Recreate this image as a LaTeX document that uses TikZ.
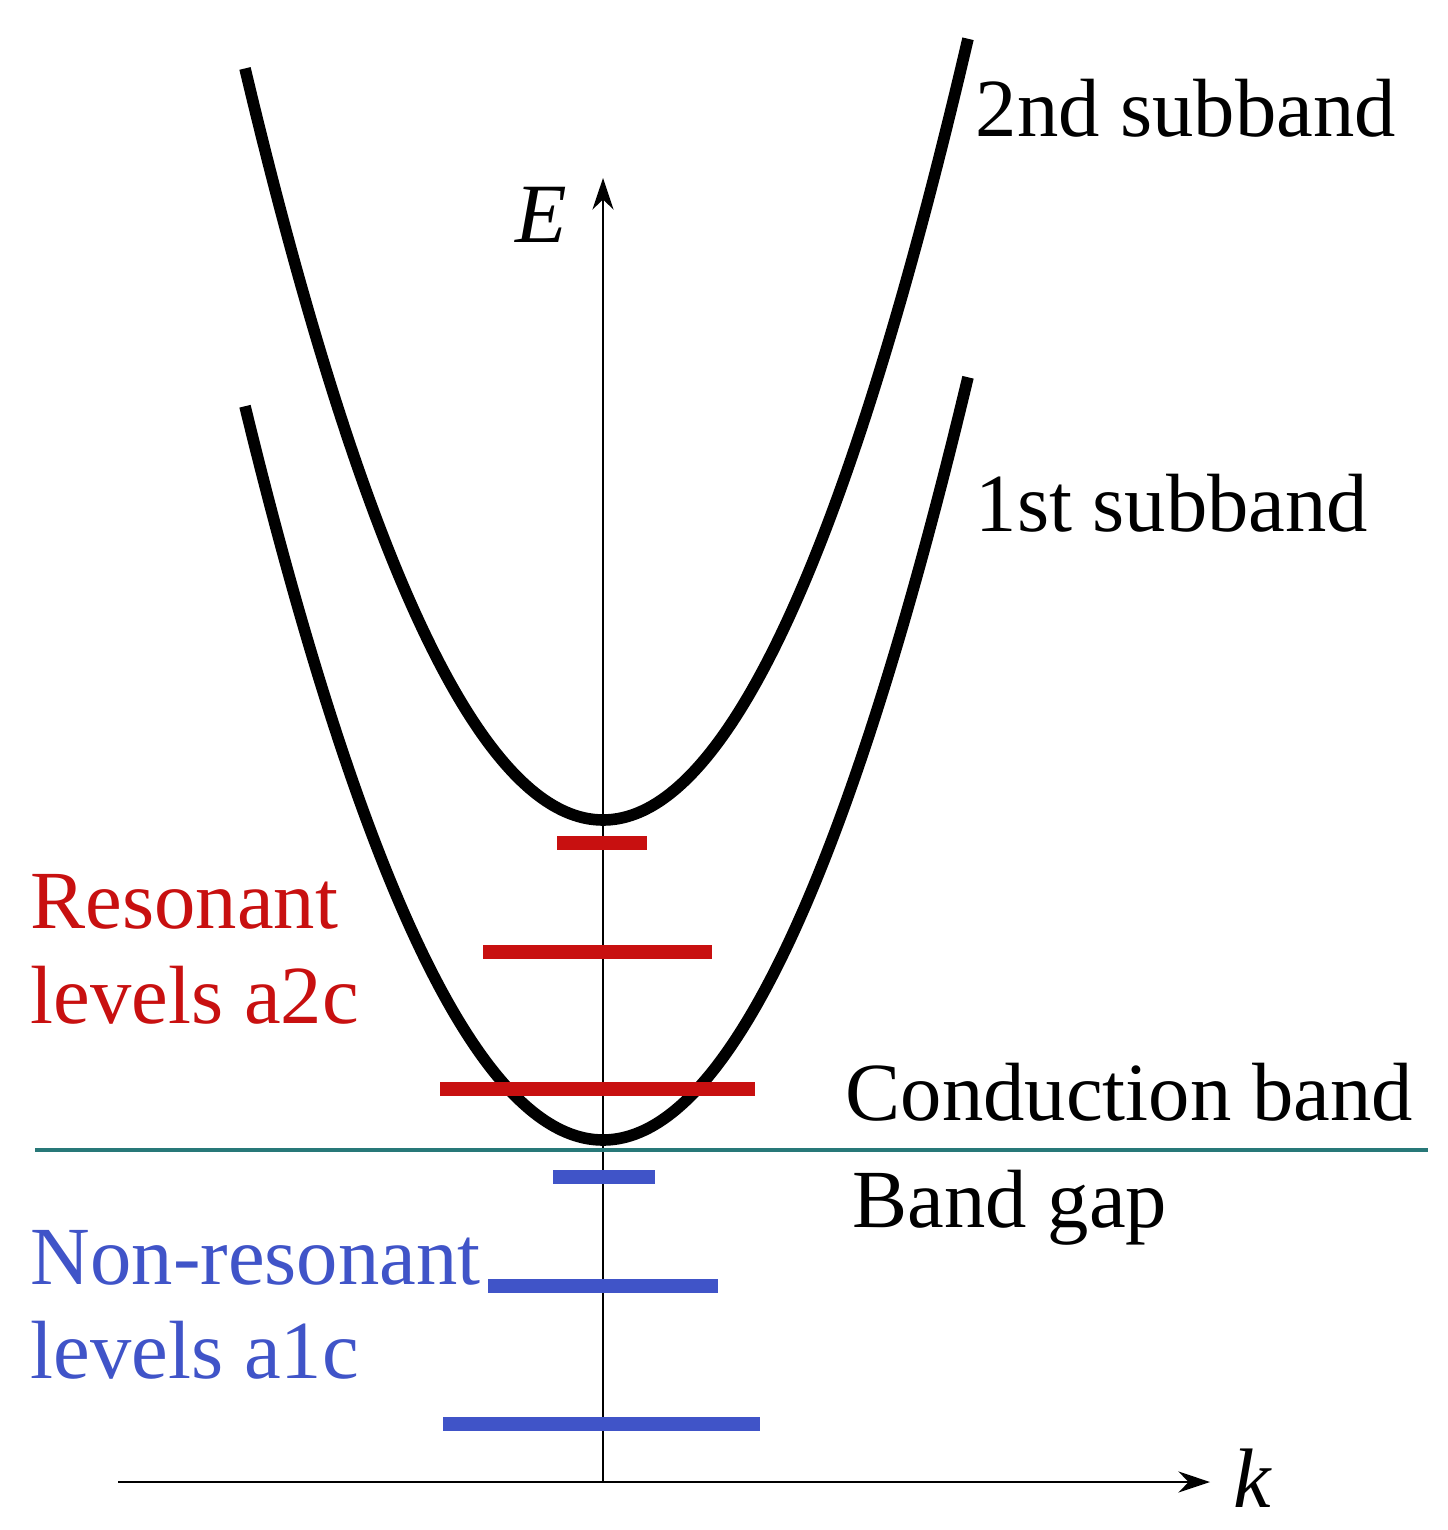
\documentclass[tikz,border=0pt]{standalone}
\usepackage{fontspec}
\usetikzlibrary{arrows.meta}
\setmainfont{Liberation Serif}
\begin{document}
\begin{tikzpicture}[x=0.01cm,y=-0.01cm,
  band/.style={line width=3.3pt,black},
  lvlr/.style={line width=4pt,draw={rgb,255:red,200;green,16;blue,16}},
  lvlb/.style={line width=4pt,draw={rgb,255:red,64;green,84;blue,200}},
  lab/.style={font=\fontsize{23.5}{28}\selectfont,anchor=west,inner sep=0pt},
  ax/.style={line width=0.6pt,-{Stealth[length=9pt,width=6pt]}}]
\useasboundingbox (0,0) rectangle (1447,1530);
\coordinate (o) at (603,1482);
\coordinate (ytop) at (603,178);
\coordinate (xl) at (118,1482);
\coordinate (xr) at (1210,1482);
\draw[ax] (o) -- (ytop);
\draw[ax] (xl) -- (xr);
\node[lab,font=\fontsize{24}{28}\selectfont\itshape] (E) at (515,215) {E};
\node[lab,font=\fontsize{24}{28}\selectfont\itshape] (k) at (1233,1478) {k};
\coordinate (g1) at (35,1150); \coordinate (g2) at (1428,1150);
\draw[line width=1.2pt,draw={rgb,255:red,40;green,120;blue,120}] (g1) -- (g2);
\draw[band] plot[domain=-358:365,samples=90,smooth] ({603+\x},{1140-742*(\x/360)^2});
\draw[band] plot[domain=-358:365,samples=90,smooth] ({603+\x},{820-760*(\x/360)^2});
\foreach \a/\b/\y in {557/647/843,483/712/952,440/755/1089}{
  \coordinate (ra) at (\a,\y); \coordinate (rb) at (\b,\y);
  \draw[lvlr] (ra) -- (rb);}
\foreach \a/\b/\y in {553/655/1177,488/718/1286,443/760/1424}{
  \coordinate (ba) at (\a,\y); \coordinate (bb) at (\b,\y);
  \draw[lvlb] (ba) -- (bb);}
\node[lab] (s2) at (975,108) {2nd subband};
\node[lab] (s1) at (975,503) {1st subband};
\node[lab] (cb) at (845,1092) {Conduction band};
\node[lab] (bg) at (852,1208) {Band gap};
\node[lab,text={rgb,255:red,200;green,16;blue,16}] (r1) at (30,902) {Resonant};
\node[lab,text={rgb,255:red,200;green,16;blue,16}] (r2) at (30,995) {levels a2c};
\node[lab,text={rgb,255:red,64;green,84;blue,200}] (n1) at (30,1258) {Non-resonant};
\node[lab,text={rgb,255:red,64;green,84;blue,200}] (n2) at (30,1350) {levels a1c};
\end{tikzpicture}
\end{document}
